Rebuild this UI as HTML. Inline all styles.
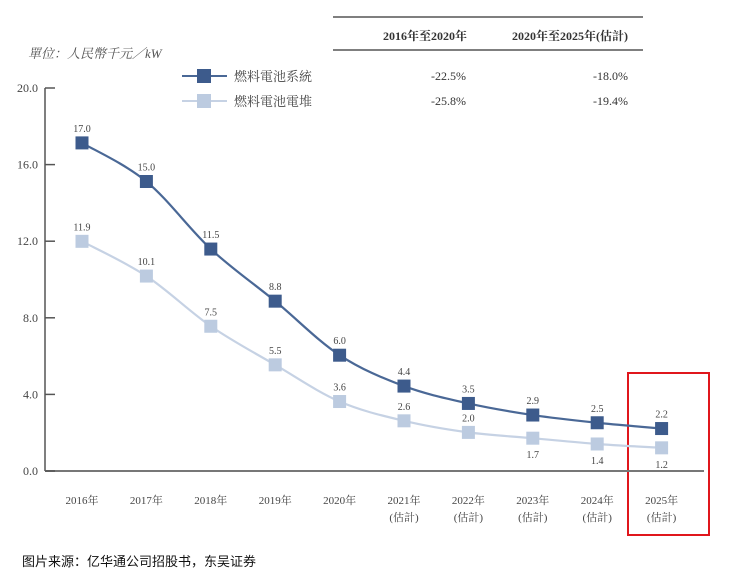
<!DOCTYPE html>
<html><head><meta charset="utf-8"><style>
body{margin:0;background:#fff;width:748px;height:586px;overflow:hidden}
svg{display:block;font-family:"Liberation Serif","Noto Serif CJK SC",serif}
</style></head><body>
<svg id="chart" width="748" height="586" viewBox="0 0 748 586">
<g fill="#333">
<line x1="333" y1="17" x2="643" y2="17" stroke="#555" stroke-width="1.5"/>
<text x="425" y="40" font-size="12" font-weight="bold" text-anchor="middle">2016年至2020年</text>
<text x="570" y="40" font-size="12" font-weight="bold" text-anchor="middle">2020年至2025年(估計)</text>
<line x1="333" y1="50" x2="643" y2="50" stroke="#555" stroke-width="1.5"/>
<text x="466" y="80" font-size="12" text-anchor="end">-22.5%</text>
<text x="628" y="80" font-size="12" text-anchor="end">-18.0%</text>
<text x="466" y="105" font-size="12" text-anchor="end">-25.8%</text>
<text x="628" y="105" font-size="12" text-anchor="end">-19.4%</text>
</g>
<text x="28" y="58" font-size="13" font-style="italic" fill="#555">單位：人民幣千元／kW</text>
<g>
<g>
<line x1="182" y1="76" x2="227" y2="76" stroke="#4a6896" stroke-width="2"/>
<rect x="197" y="69" width="14" height="14" fill="#3d5b8c"/>
<text x="234" y="81" font-size="13" fill="#444">燃料電池系統</text></g>
<g>
<line x1="182" y1="101" x2="227" y2="101" stroke="#c6d2e4" stroke-width="2"/>
<rect x="197" y="94" width="14" height="14" fill="#bccbe0"/>
<text x="234" y="106" font-size="13" fill="#444">燃料電池電堆</text></g>
</g>
<rect x="628" y="373" width="81" height="162" fill="none" stroke="#e0161c" stroke-width="2"/>
<text x="22" y="566" font-size="13" fill="#111" font-family="'Liberation Sans','Noto Sans CJK SC',sans-serif">图片来源：亿华通公司招股书，东吴证券</text>
<g id="axes"></g>
<g id="plot"></g>
</svg>
<script>
const categories=["2016年","2017年","2018年","2019年","2020年","2021年","2022年","2023年","2024年","2025年"];
const estimated=[false,false,false,false,false,true,true,true,true,true];
const systemValues=[17.0,15.0,11.5,8.8,6.0,4.4,3.5,2.9,2.5,2.2];
const stackValues=[11.9,10.1,7.5,5.5,3.6,2.6,2.0,1.7,1.4,1.2];
const yTicks=[0,4,8,12,16,20];
const NS="http://www.w3.org/2000/svg";
const X0=82,DX=64.4,Y0=471,YS=19.3;
const x=i=>X0+i*DX, y=v=>Y0-v*YS;
function mk(tag,attrs,parent,txt){const e=document.createElementNS(NS,tag);for(const k in attrs)e.setAttribute(k,attrs[k]);if(txt!=null)e.textContent=txt;parent.appendChild(e);return e;}
const axes=document.getElementById('axes'),plot=document.getElementById('plot');
const tickY=t=>471-t*(383/20);
const ya=mk('line',{x1:45,y1:tickY(20),x2:45,y2:Y0,stroke:'#555','stroke-width':1.5},axes);


const xa=mk('line',{x1:45,y1:Y0,x2:704,y2:Y0,stroke:'#777','stroke-width':2},axes);


yTicks.forEach(t=>{
 mk('line',{x1:45,y1:tickY(t),x2:55,y2:tickY(t),stroke:'#555','stroke-width':1.5},axes);
 const l=mk('text',{x:38,y:tickY(t)+4,'font-size':12,'text-anchor':'end',fill:'#444'},axes,t.toFixed(1));
 
 
});
categories.forEach((c,i)=>{
 const l=mk('text',{x:x(i),y:504,'font-size':11,'text-anchor':'middle',fill:'#444'},axes,c);
 
 
 if(estimated[i]){const e=mk('text',{x:x(i),y:521,'font-size':11,'text-anchor':'middle',fill:'#444'},axes,'(估計)');
 
 }
});
function path(vals){const p=vals.map((v,i)=>[x(i),y(v)]);let d='M'+p[0];for(let i=1;i<p.length;i++){const a=p[i-2]||p[i-1],b=p[i-1],c=p[i],n=p[i+1]||c;d+=` C${b[0]+(c[0]-a[0])/6},${b[1]+(c[1]-a[1])/6} ${c[0]-(n[0]-b[0])/6},${c[1]-(n[1]-b[1])/6} ${c[0]},${c[1]}`;}return d;}
function series(vals,line,fill,name,below){
 const pl=mk('path',{d:path(vals),fill:'none',stroke:line,'stroke-width':2.2},plot);
 
 
 vals.forEach((v,i)=>{
  const r=mk('rect',{x:x(i)-6.5,y:y(v)-6.5,width:13,height:13,fill:fill},plot);
  
  
  const lb=below(i)?y(v)+20:y(v)-11;
  const t=mk('text',{x:x(i),y:lb,'font-size':10,'text-anchor':'middle',fill:'#444'},plot,v.toFixed(1));
  
  
 });
}
series(stackValues,'#c6d2e4','#bccbe0','stack',i=>i>=7);
series(systemValues,'#4a6896','#3d5b8c','system',i=>false);
</script>
</body></html>
